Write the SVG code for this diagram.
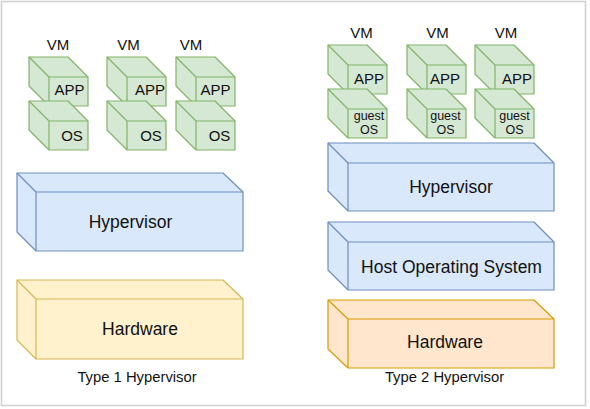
<svg xmlns="http://www.w3.org/2000/svg" width="590" height="409" viewBox="0 0 590 409">
<style>
text{font-family:"Liberation Sans",Arial,sans-serif;fill:#111;text-anchor:middle}
path{stroke-width:1.2;stroke-linejoin:round}
.g{fill:#d5e8d4;stroke:#82b366}
.b{fill:#dae8fc;stroke:#6c8ebf}
.y{fill:#fff2cc;stroke:#d6b656}
.o{fill:#ffe6cc;stroke:#d79b00}
.n{fill:none}
.s{font-size:15px}
.m{font-size:12.5px}
.l{font-size:17.5px}
.c{font-size:14.8px}
</style>
<rect x="0" y="0" width="590" height="409" fill="#fff"/>
<rect x="1.5" y="1.5" width="584" height="404" fill="none" stroke="#cfcfcf" stroke-width="1.5"/>

<!-- Type 1 -->
<g id="t1-vm1">
<text class="s" x="58" y="50">VM</text>
<path class="g" d="M29,57 L68,57 L88,77 L88,106 L49,106 L29,86 Z"/>
<path class="g n" d="M29,57 L49,77 L88,77 M49,77 L49,106"/>
<text class="s" x="69.5" y="95">APP</text>
<path class="g" d="M29,101 L68,101 L88,121 L88,150 L49,150 L29,130 Z"/>
<path class="g n" d="M29,101 L49,121 L88,121 M49,121 L49,150"/>
<text class="s" x="72" y="141">OS</text>
</g>
<g id="t1-vm2">
<text class="s" x="128.5" y="50">VM</text>
<path class="g" d="M107,57 L146,57 L166,77 L166,106 L127,106 L107,86 Z"/>
<path class="g n" d="M107,57 L127,77 L166,77 M127,77 L127,106"/>
<text class="s" x="150" y="95">APP</text>
<path class="g" d="M107,101 L146,101 L166,121 L166,150 L127,150 L107,130 Z"/>
<path class="g n" d="M107,101 L127,121 L166,121 M127,121 L127,150"/>
<text class="s" x="151" y="141">OS</text>
</g>
<g id="t1-vm3">
<text class="s" x="191" y="50">VM</text>
<path class="g" d="M176,57 L215,57 L235,77 L235,106 L196,106 L176,86 Z"/>
<path class="g n" d="M176,57 L196,77 L235,77 M196,77 L196,106"/>
<text class="s" x="215.5" y="95">APP</text>
<path class="g" d="M176,101 L215,101 L235,121 L235,150 L196,150 L176,130 Z"/>
<path class="g n" d="M176,101 L196,121 L235,121 M196,121 L196,150"/>
<text class="s" x="219.5" y="141">OS</text>
</g>
<g id="t1-hypervisor">
<path class="b" d="M17,173 L223,173 L243,192 L243,251 L36,251 L17,232 Z"/>
<path class="b n" d="M17,173 L36,192 L243,192 M36,192 L36,251"/>
<text class="l" x="130.5" y="228">Hypervisor</text>
</g>
<g id="t1-hardware">
<path class="y" d="M17,280 L223,280 L243,299 L243,359 L36,359 L17,340 Z"/>
<path class="y n" d="M17,280 L36,299 L243,299 M36,299 L36,359"/>
<text class="l" x="140" y="335">Hardware</text>
</g>
<text class="c" x="137" y="382">Type 1 Hypervisor</text>

<!-- Type 2 -->
<g id="t2-vm1">
<text class="s" x="361.5" y="38">VM</text>
<path class="g" d="M328,45 L367,45 L387,65 L387,94 L348,94 L328,74 Z"/>
<path class="g n" d="M328,45 L348,65 L387,65 M348,65 L348,94"/>
<text class="s" x="369" y="84">APP</text>
<path class="g" d="M328,89 L367,89 L387,109 L387,138 L348,138 L328,118 Z"/>
<path class="g n" d="M328,89 L348,109 L387,109 M348,109 L348,138"/>
<text class="m" x="369" y="120">guest</text>
<text class="m" x="369" y="133.5">OS</text>
</g>
<g id="t2-vm2">
<text class="s" x="437.5" y="38">VM</text>
<path class="g" d="M407,45 L446,45 L466,65 L466,94 L427,94 L407,74 Z"/>
<path class="g n" d="M407,45 L427,65 L466,65 M427,65 L427,94"/>
<text class="s" x="445" y="84">APP</text>
<path class="g" d="M407,89 L446,89 L466,109 L466,138 L427,138 L407,118 Z"/>
<path class="g n" d="M407,89 L427,109 L466,109 M427,109 L427,138"/>
<text class="m" x="445.5" y="120">guest</text>
<text class="m" x="445.5" y="133.5">OS</text>
</g>
<g id="t2-vm3">
<text class="s" x="506" y="38">VM</text>
<path class="g" d="M475,45 L514,45 L534,65 L534,94 L495,94 L475,74 Z"/>
<path class="g n" d="M475,45 L495,65 L534,65 M495,65 L495,94"/>
<text class="s" x="517" y="84">APP</text>
<path class="g" d="M475,89 L514,89 L534,109 L534,138 L495,138 L475,118 Z"/>
<path class="g n" d="M475,89 L495,109 L534,109 M495,109 L495,138"/>
<text class="m" x="514.5" y="120">guest</text>
<text class="m" x="514.5" y="133.5">OS</text>
</g>
<g id="t2-hypervisor">
<path class="b" d="M328,143 L534,143 L554,163 L554,211 L348,211 L328,191 Z"/>
<path class="b n" d="M328,143 L348,163 L554,163 M348,163 L348,211"/>
<text class="l" x="451" y="193">Hypervisor</text>
</g>
<g id="t2-hostos">
<path class="b" d="M328,222 L534,222 L554,242 L554,290 L348,290 L328,270 Z"/>
<path class="b n" d="M328,222 L348,242 L554,242 M348,242 L348,290"/>
<text class="l" x="451.5" y="273">Host Operating System</text>
</g>
<g id="t2-hardware">
<path class="o" d="M328,300 L534,300 L554,319 L554,368 L348,368 L328,349 Z"/>
<path class="o n" d="M328,300 L348,319 L554,319 M348,319 L348,368"/>
<text class="l" x="445" y="348">Hardware</text>
</g>
<text class="c" x="444.5" y="382">Type 2 Hypervisor</text>
<g id="connectors"/>
</svg>
